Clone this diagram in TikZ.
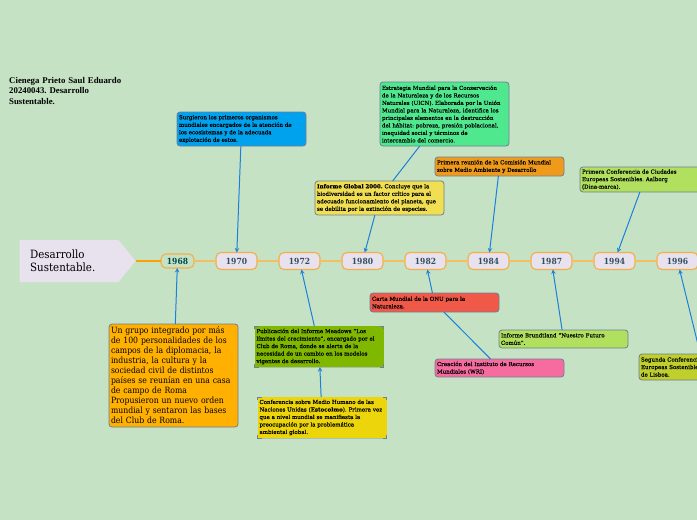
\documentclass[tikz,border=0pt]{standalone}
\usepackage{fontspec}
\setmainfont{DejaVu Serif}
\newfontfamily\titlefont{Liberation Serif}
\newfontfamily\slabfont{DejaVu Serif Condensed}
\newfontfamily\cardfont[FakeBold=0.25]{DejaVu Serif}
\frenchspacing
\usetikzlibrary{shapes.symbols,shadows}
\definecolor{pagegreen}{HTML}{C5E3C4}
\definecolor{lilac}{HTML}{E8E1EE}
\definecolor{yearline}{HTML}{F5BE5E}
\definecolor{yearedge}{HTML}{F4AE48}
\definecolor{yeartext}{HTML}{2F4F5F}
\definecolor{linkblue}{HTML}{1C7FDC}
\definecolor{boxedge}{HTML}{6E7F98}
\definecolor{cardblue}{HTML}{00A2EE}
\definecolor{cardmint}{HTML}{50E88F}
\definecolor{cardyellow}{HTML}{F0DF52}
\definecolor{cardorange}{HTML}{F09A1C}
\definecolor{cardlime}{HTML}{B0E05E}
\definecolor{cardpink}{HTML}{F76C9F}
\definecolor{cardred}{HTML}{F05848}
\definecolor{cardolive}{HTML}{BFCF2B}
\definecolor{cardgreen}{HTML}{80B800}
\definecolor{cardgold}{HTML}{ECD50A}
\definecolor{cardamber}{HTML}{FFB000}
\tikzset{
    card/.style={draw=boxedge, line width=0.8pt, rounded corners=3pt, align=left, text width=125pt,
        inner xsep=2pt, inner ysep=1pt, outer sep=0pt, text=black,
        font=\cardfont\fontsize{5.5}{7.5}\selectfont},
    flatcard/.style={card, rounded corners=0pt, draw=none, drop shadow={shadow xshift=0.6pt, shadow yshift=-0.8pt, opacity=0.35}},
    cornermark/.style={draw=boxedge, line width=0.8pt},
    yearbox/.style={draw=yearedge, line width=1.1pt, fill=lilac, rounded corners=5pt, minimum width=41pt,
        minimum height=17pt, inner sep=0pt, outer sep=0pt, text=yeartext,
        font=\slabfont\bfseries\fontsize{8.4}{9}\selectfont},
    link/.style={draw=linkblue, line width=1pt},
    linkto/.style={link, -stealth},
    yearlink/.style={draw=yearline, line width=1.2pt}
}
\begin{document}
\begin{tikzpicture}[x=1pt, y=-1pt]
    \useasboundingbox[fill=pagegreen] (0,0) rectangle (697,520);
    % title
    \node[anchor=north west, inner sep=0pt, align=left, text width=118pt,
        font=\titlefont\bfseries\fontsize{8.8}{10.5}\selectfont] (title) at (9,77)
        {Cienega Prieto Saul Eduardo\\20240043. Desarrollo\\Sustentable.};
    % timeline
    \node[signal, signal to=east, signal pointer angle=102, fill=lilac, minimum width=116pt, minimum height=42pt,
        inner sep=0pt, outer sep=0pt] (root) at (69,261) {};
    \node[anchor=west, inner sep=0pt, align=left, font=\slabfont\fontsize{11.4}{13}\selectfont] (rootlabel) at (30,261)
        {Desarrollo\\Sustentable.};
    \node[yearbox, minimum width=33pt, minimum height=14pt, fill=pagegreen, text=black!60!green!70!blue] (y1968) at (177.5,261) {1968};
    \foreach \yr/\xc in {1970/236.5, 1972/299.5, 1980/362.5, 1982/425.5, 1984/488.5, 1987/551.5, 1994/614.5, 1996/677.5}
        \node[yearbox] (y\yr) at (\xc,261) {\yr};
    \draw[yearlink, draw=orange!75!yellow] (root) -- (y1968);
    \foreach \a/\b in {1968/1970, 1970/1972, 1972/1980, 1980/1982, 1982/1984, 1984/1987, 1987/1994, 1994/1996}
        \draw[yearlink] (y\a) -- (y\b);
    % cards above
    \node[card, fill=cardblue, minimum height=34pt] (surgieron) at (241.5,129)
        {Surgieron los primeros organismos\\mundiales encargados de la atención de\\los ecosistemas y de la adecuada\\explotación de estos.};
    \node[card, fill=cardmint, minimum height=64pt] (estrategia) at (444.5,114)
        {Estrategia Mundial para la Conservación\\de la Naturaleza y de los Recursos\\Naturales (UICN). Elaborada por la Unión\\Mundial para la Naturaleza, identifica los\\principales elementos en la destrucción\\del hábitat: pobreza, presión poblacional,\\inequidad social y términos de\\intercambio del comercio.};
    \node[card, fill=cardyellow, minimum height=34pt] (informe) at (379.5,198)
        {\textbf{Informe Global 2000.} Concluye que la\\biodiversidad es un factor crítico para el\\adecuado funcionamiento del planeta, que\\se debilita por la extinción de especies.};
    \node[card, fill=cardorange, minimum height=19pt] (comision) at (499.5,166.5)
        {Primera reunión de la Comisión Mundial\\sobre Medio Ambiente y Desarrollo};
    \node[card, fill=cardlime, minimum height=25pt] (aalborg) at (644.5,179.5)
        {Primera Conferencia de Ciudades\\Europeas Sostenibles. Aalborg\\(Dina-marca).};
    % cards below
    \node[card, fill=cardamber, minimum height=103pt, font=\slabfont\fontsize{8.6}{10}\selectfont] (grupo) at (173.5,375.5)
        {Un grupo integrado por más\\de 100 personalidades de los\\campos de la diplomacia, la\\industria, la cultura y la\\sociedad civil de distintos\\países se reunían en una casa\\de campo de Roma\\Propusieron un nuevo orden\\mundial y sentaron las bases\\del Club de Roma.};
    \node[flatcard, fill=cardgreen, minimum height=41pt] (meadows) at (319,346.5)
        {Publicación del Informe Meadows “Los\\límites del crecimiento”, encargado por el\\Club de Roma, donde se alerta de la\\necesidad de un cambio en los modelos\\vigentes de desarrollo.};
    \node[flatcard, fill=cardgold, minimum height=41pt] (estocolmo) at (322,417.5)
        {Conferencia sobre Medio Humano de las\\Naciones Unidas (\textbf{Estocolmo}). Primera vez\\que a nivel mundial se manifiesta la\\preocupación por la problemática\\ambiental global.};
    \foreach \card in {meadows, estocolmo} {
        \draw[cornermark] ([yshift=-3pt]\card.north west) -- (\card.north west) -- ([xshift=4pt]\card.north west);
        \draw[cornermark] ([yshift=-3pt]\card.north east) -- (\card.north east) -- ([xshift=-4pt]\card.north east);
        \draw[cornermark] ([yshift=3pt]\card.south west) -- (\card.south west) -- ([xshift=4pt]\card.south west);
        \draw[cornermark] ([yshift=3pt]\card.south east) -- (\card.south east) -- ([xshift=-4pt]\card.south east);
    }
    \node[card, fill=cardred, minimum height=19pt] (carta) at (434.5,302.5)
        {Carta Mundial de la ONU para la\\Naturaleza.};
    \node[card, fill=cardpink, minimum height=18pt] (wri) at (499.5,368)
        {Creación del Instituto de Recursos\\Mundiales (WRI)};
    \node[card, fill=cardlime, minimum height=18pt] (brundtland) at (563.5,339)
        {Informe Brundtland “Nuestro Futuro\\Común”.};
    \node[card, fill=cardolive, minimum height=26pt] (lisboa) at (703.5,367)
        {Segunda Conferencia\\Europeas Sostenibles\\de Lisboa.};
    % connectors
    \draw[linkto] (surgieron) -- (y1970);
    \draw[link] (estrategia) -- (informe);
    \draw[linkto] (informe) -- (y1980);
    \draw[linkto] (comision) -- (y1984);
    \draw[linkto] (aalborg) -- (y1994);
    \draw[linkto] (grupo) -- (y1968);
    \draw[linkto] (meadows) -- (y1972);
    \draw[linkto] (estocolmo) -- (meadows);
    \draw[linkto] (carta) -- (y1982);
    \draw[link] (wri) -- (carta);
    \draw[linkto] (brundtland) -- (y1987);
    \draw[linkto] (lisboa) -- (y1996);
\end{tikzpicture}
\end{document}
